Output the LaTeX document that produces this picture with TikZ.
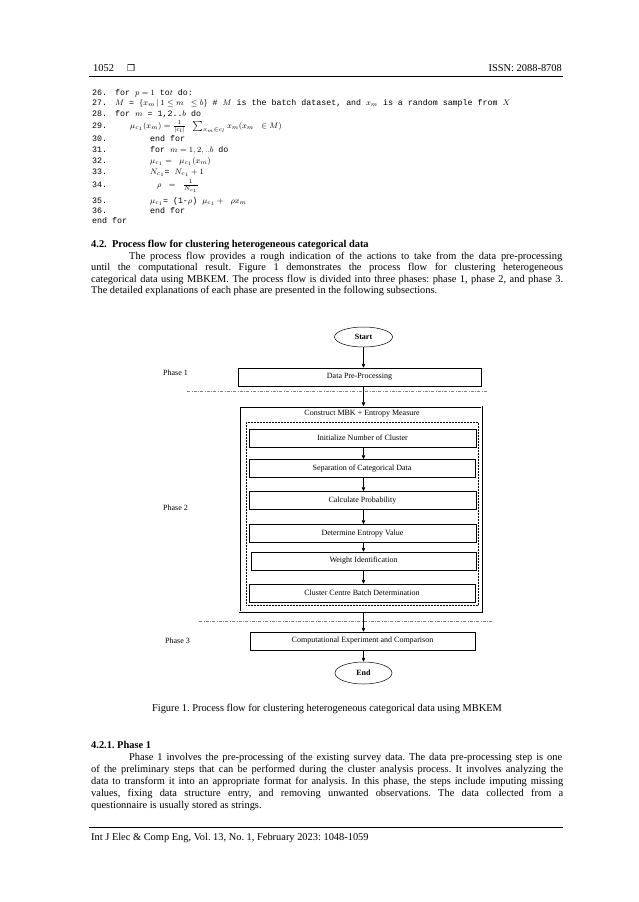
\documentclass[tikz,border=0pt]{standalone}
\usepackage{fontspec}
\setmainfont{Liberation Serif}
\setmonofont{Liberation Mono}
\newfontfamily\symfont{DejaVu Sans}
\usetikzlibrary{arrows.meta,shapes.geometric}
\frenchspacing

\newcommand{\jline}[1]{\makebox[472pt][s]{#1}}
\newcommand{\iline}[1]{\makebox[433pt][s]{#1}}

\tikzset{
  txt/.style={anchor=base west, inner sep=0pt, font=\fontsize{10.4}{12}\selectfont},
  head/.style={txt, font=\fontsize{10.4}{12}\selectfont\bfseries},
  code/.style={anchor=base west, inner sep=0pt, font=\fontsize{8.3}{10}\ttfamily},
  stepbox/.style={draw, line width=0.5pt, minimum height=18pt, inner sep=0pt, font=\fontsize{8}{9}\selectfont},
  term/.style={draw, ellipse, line width=0.5pt, minimum width=58pt, minimum height=20pt, inner sep=0pt, font=\fontsize{8}{9}\selectfont\bfseries},
  phase/.style={anchor=west, inner sep=0pt, font=\fontsize{8}{9}\selectfont},
  flow/.style={-{Triangle[length=4pt,width=3.5pt]}, line width=0.6pt},
  sep/.style={gray, line width=0.5pt, dash pattern=on 3pt off 1.5pt on 0.6pt off 1.5pt}
}

\begin{document}
\begin{tikzpicture}[x=1pt, y=-1pt]
\fill[white] (0,0) rectangle (638,902);
\useasboundingbox (0,0) rectangle (638,902);

\node[txt] (pg) at (93,71) {1052};
\node[anchor=base west, inner sep=0pt, font=\symfont\fontsize{9}{10}\selectfont] (sq) at (127,71) {❒};
\node[txt, anchor=base east] (issn) at (562,71) {ISSN: 2088-8708};
\draw[line width=0.8pt] (89,76) -- (563,76);

\node[code] (n26) at (92,95) {26.};
\node[code] (c26) at (115,95) {for $p=1$ to$t$ do:};
\node[code] (n27) at (92,105) {27.};
\node[code] (c27) at (115,105) {$M$ = $\{x_m\,|\,1\le m\ \le b\}$ \# $M$ is the batch dataset, and $x_m$ is a random sample from $X$};
\node[code] (n28) at (92,116.5) {28.};
\node[code] (c28) at (115,116.5) {for $m$ = 1,2..$b$ do};
\node[code] (n29) at (92,128) {29.};
\node[code] (c29) at (130,128) {$\mu_{c_1}(x_m)=\frac{1}{|c_l|}\ \sum_{x_m\in c_l}x_m(x_m\ \in M)$};
\node[code] (n30) at (92,141) {30.};
\node[code] (c30) at (150,141) {end for};
\node[code] (n31) at (92,152) {31.};
\node[code] (c31) at (150,152) {for $m=1,2,..b$ do};
\node[code] (n32) at (92,163) {32.};
\node[code] (c32) at (150,163) {$\mu_{c_1}=\ \mu_{c_1}(x_m)$};
\node[code] (n33) at (92,174) {33.};
\node[code] (c33) at (150,174) {$N_{c_1}$= $N_{c_1}+1$};
\node[code] (n34) at (92,187) {34.};
\node[code] (c34) at (157,187) {$\rho\ =\ \frac{1}{N_{c_1}}$};
\node[code] (n35) at (92,203) {35.};
\node[code] (c35) at (150,203) {$\mu_{c_1}$= (1-$\rho$) $\mu_{c_1}+\ \rho x_m$};
\node[code] (n36) at (92,213) {36.};
\node[code] (c36) at (150,213) {end for};
\node[code] (c37) at (92,223) {end for};

\node[head] (h42) at (91,247) {4.2.\ \ Process flow for clustering heterogeneous categorical data};
\node[txt] (p1a) at (129,259) {\iline{The process flow provides a rough indication of the actions to take from the data pre-processing}};
\node[txt] (p1b) at (91,270.5) {\jline{until the computational result. Figure 1 demonstrates the process flow for clustering heterogeneous}};
\node[txt] (p1c) at (91,282) {\jline{categorical data using MBKEM. The process flow is divided into three phases: phase 1, phase 2, and phase 3.}};
\node[txt] (p1d) at (91,293.5) {The detailed explanations of each phase are presented in the following subsections.};

\node[term] (start) at (363.5,337) {Start};
\node[phase] (ph1) at (163,373) {Phase 1};
\node[stepbox, minimum width=243pt] (prep) at (359.5,377) {Data Pre-Processing};
\draw[sep] (187,391) -- (488,391);
\node[draw, line width=0.5pt, double, double distance=1pt, minimum width=242pt, minimum height=205pt] (mbk) at (360.5,509) {};
\node[inner sep=0pt, font=\fontsize{8}{9}\selectfont] (mbkt) at (362,414) {Construct MBK + Entropy Measure};
\node[draw, line width=0.5pt, densely dotted, minimum width=232pt, minimum height=183pt] (inner) at (362,513.5) {};
\node[stepbox, minimum width=227pt] (init) at (362.5,438) {Initialize Number of Cluster};
\node[stepbox, minimum width=226pt] (sepr) at (362,468.5) {Separation of Categorical Data};
\node[stepbox, minimum width=227pt] (prob) at (362.5,500.5) {Calculate Probability};
\node[stepbox, minimum width=227pt] (ent) at (362.5,533.5) {Determine Entropy Value};
\node[stepbox, minimum width=225pt] (wgt) at (363.5,561) {Weight Identification};
\node[stepbox, minimum width=226pt] (ccb) at (362,593) {Cluster Centre Batch Determination};
\node[phase] (ph2) at (163,508) {Phase 2};
\draw[sep] (199,621) -- (493,621);
\node[phase] (ph3) at (165,641) {Phase 3};
\node[stepbox, minimum width=225pt] (comp) at (362.5,641) {Computational Experiment and Comparison};
\node[term, minimum width=57pt, minimum height=22pt] (end) at (363.5,673) {End};

\draw[flow] (start) -- (start |- prep.north);
\draw[flow] (prep.south -| start) -- (start |- mbk.north);
\draw[flow] (init.south -| start) -- (start |- sepr.north);
\draw[flow] (sepr.south -| start) -- (start |- prob.north);
\draw[flow] (prob.south -| start) -- (start |- ent.north);
\draw[flow] (ent.south -| start) -- (start |- wgt.north);
\draw[flow] (wgt.south -| start) -- (start |- ccb.north);
\draw[flow] (mbk.south -| start) -- (start |- comp.north);
\draw[flow] (comp.south -| start) -- (end);

\node[txt, anchor=base] (cap) at (327,711) {Figure 1. Process flow for clustering heterogeneous categorical data using MBKEM};

\node[head] (h421) at (91,748) {4.2.1. Phase 1};
\node[txt] (p2a) at (129,760) {\iline{Phase 1 involves the pre-processing of the existing survey data. The data pre-processing step is one}};
\node[txt] (p2b) at (91,772) {\jline{of the preliminary steps that can be performed during the cluster analysis process. It involves analyzing the}};
\node[txt] (p2c) at (91,784) {\jline{data to transform it into an appropriate format for analysis. In this phase, the steps include imputing missing}};
\node[txt] (p2d) at (91,796) {\jline{values, fixing data structure entry, and removing unwanted observations. The data collected from a}};
\node[txt] (p2e) at (91,808) {questionnaire is usually stored as strings.};

\draw[line width=0.8pt] (89,827) -- (563,827);
\node[txt] (foot) at (91,840) {Int J Elec \& Comp Eng, Vol. 13, No. 1, February 2023: 1048-1059};
\end{tikzpicture}
\end{document}
